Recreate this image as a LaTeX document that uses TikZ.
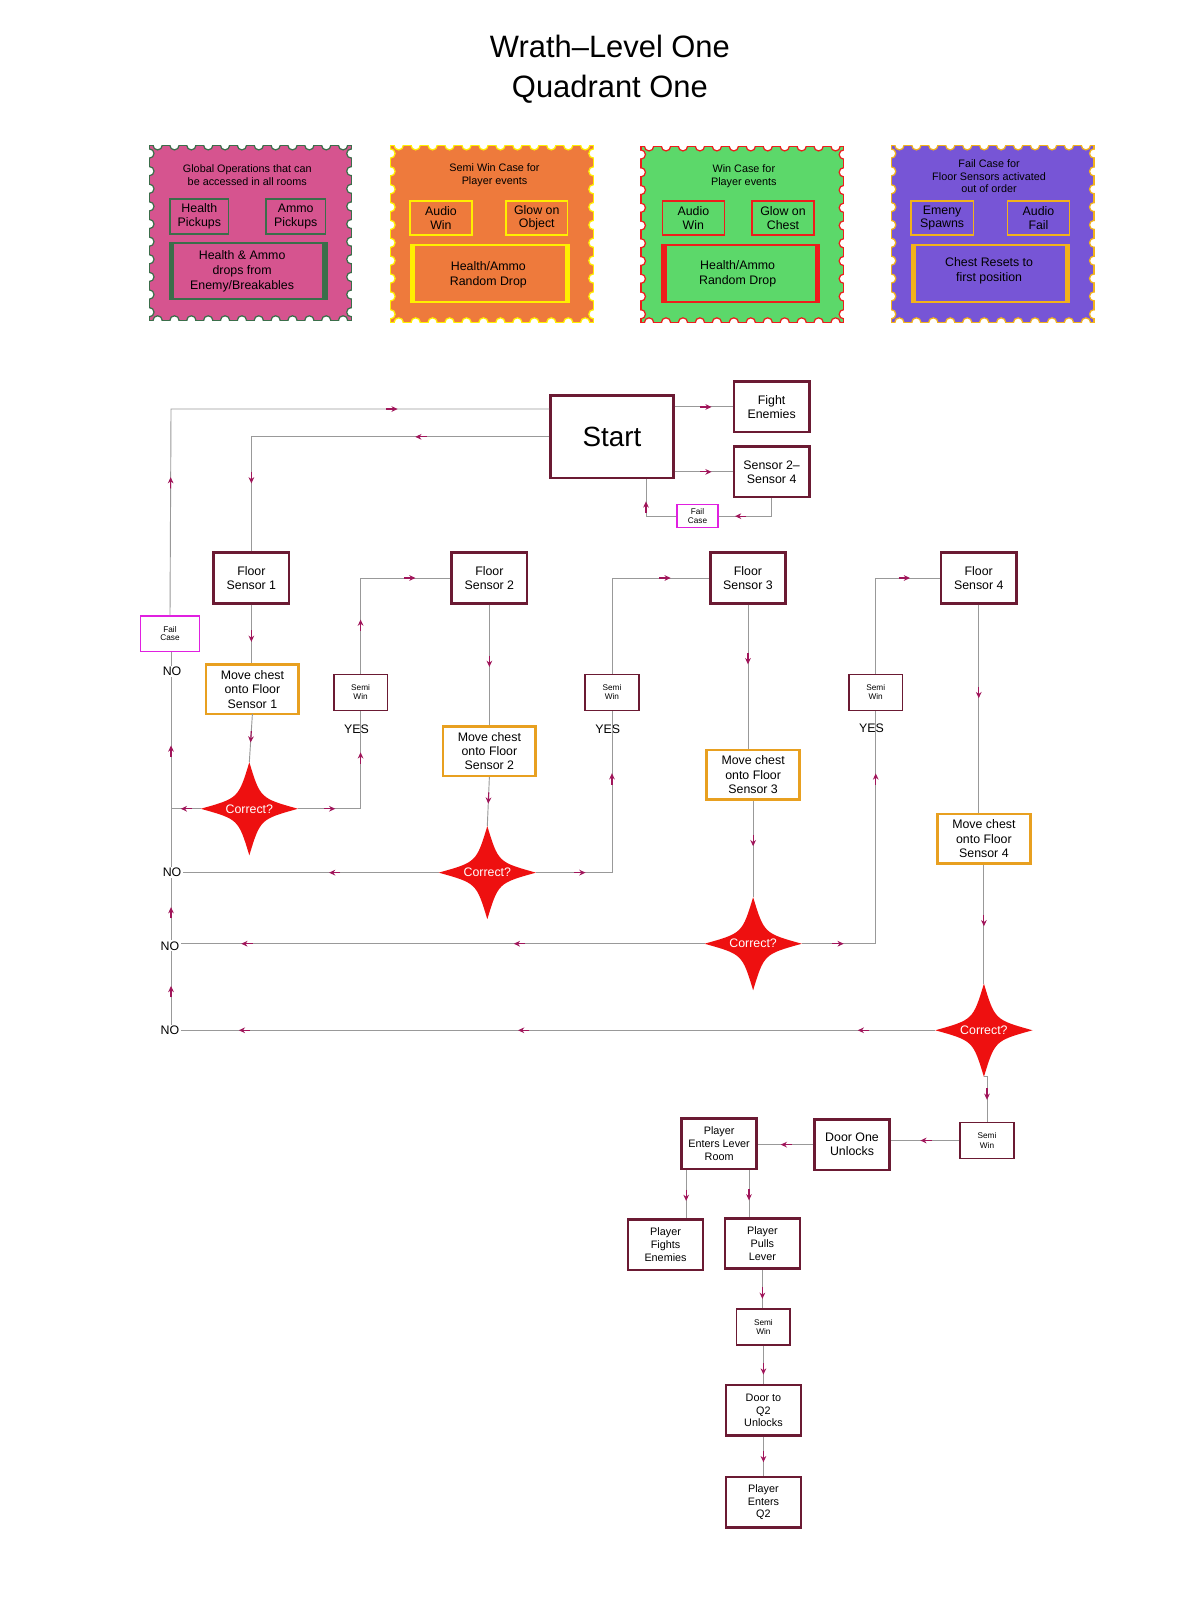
\documentclass[tikz,border=0pt]{standalone}
\usepackage{fontspec}
\setmainfont{Liberation Sans}
\usetikzlibrary{shapes.geometric,decorations.markings,calc,arrows.meta}
\definecolor{boxc}{HTML}{6B1A33}
\definecolor{arc}{HTML}{A0155A}
\definecolor{ob}{HTML}{E8A020}
\definecolor{mg}{HTML}{E020E0}
\definecolor{pinkf}{HTML}{D6548F}
\definecolor{greenb}{HTML}{3B6E4A}
\definecolor{orangef}{HTML}{EE7A3C}
\definecolor{yellowb}{HTML}{FFEF00}
\definecolor{greenf}{HTML}{5CD86A}
\definecolor{redb}{HTML}{EE1C1C}
\definecolor{purplef}{HTML}{7755D6}
\definecolor{goldb}{HTML}{F2B21B}
\definecolor{dred}{HTML}{EE1010}
\newcommand\mystamp[6]{%
  \fill[#5,draw=#6,line width=1.5] (#1,#2) rectangle (#3,#4);
  \foreach \k in {0,...,11}{\pgfmathsetmacro\xx{#1+8+\k*(#3-#1-16)/11}
    \filldraw[fill=white,draw=#6,line width=1.2] (\xx,#2) circle (4.5);
    \filldraw[fill=white,draw=#6,line width=1.2] (\xx,#4) circle (4.5);}
  \foreach \k in {0,...,9}{\pgfmathsetmacro\yy{#2+8+\k*(#4-#2-16)/9}
    \filldraw[fill=white,draw=#6,line width=1.2] (#1,\yy) circle (4.5);
    \filldraw[fill=white,draw=#6,line width=1.2] (#3,\yy) circle (4.5);}
  \fill[white] (#1-7,#2-7) rectangle (#3+7,#2-0.6);
  \fill[white] (#1-7,#4+0.6) rectangle (#3+7,#4+7);
  \fill[white] (#1-7,#2-7) rectangle (#1-0.6,#4+7);
  \fill[white] (#3+0.6,#2-7) rectangle (#3+7,#4+7);
}
\newcommand\bigin[5]{%
  \draw[#5,line width=2] (#1,#2) rectangle (#3,#4);
  \draw[#5,line width=5] (#1+1.5,#2) -- (#1+1.5,#4) (#3-1.5,#2) -- (#3-1.5,#4);
}
\tikzset{
  box/.style={draw=boxc,line width=2.5pt,fill=white,align=center,minimum width=73,minimum height=49,inner sep=1,font=\fontsize{12}{13.5}\selectfont},
  sbox/.style={draw=boxc,line width=1.5pt,fill=white,align=center,minimum width=52,minimum height=35,inner sep=1,font=\fontsize{8}{9}\selectfont},
  mbox/.style={draw=ob,line width=2.5pt,fill=white,align=center,minimum width=90,minimum height=48,inner sep=1,font=\fontsize{12}{14}\selectfont},
  failc/.style={draw=mg,line width=1.2pt,fill=white,align=center,inner sep=1,font=\fontsize{8}{8.5}\selectfont},
  stin/.style={draw=#1,line width=1.5,align=center,inner sep=0,font=\fontsize{12}{13}\selectfont},
  sttxt/.style={align=center,font=\fontsize{10.5}{12.5}\selectfont},
  bigtxt/.style={align=center,font=\fontsize{12}{14.5}\selectfont},
  lbl/.style={fill=white,inner sep=1,font=\fontsize{12}{13}\selectfont},
  dia/.style={diamond,minimum width=94,minimum height=90,inner sep=0,text=white,font=\fontsize{12}{13}\selectfont},
  ln/.style={draw=black!40,line width=0.9},
  ar/.style={postaction={decorate,decoration={markings,mark=at position #1 with {\draw[arc,line width=1.1,-{Stealth[length=6,width=5.5]}] (-9,0)--(2,0);}}}}
}
\newcommand\concave[1]{%
  \fill[dred] (#1.north) .. controls ($(#1.center)!0.45!(#1.north east)$) .. (#1.east)
    .. controls ($(#1.center)!0.45!(#1.south east)$) .. (#1.south)
    .. controls ($(#1.center)!0.45!(#1.south west)$) .. (#1.west)
    .. controls ($(#1.center)!0.45!(#1.north west)$) .. (#1.north) -- cycle;}
\begin{document}
\begin{tikzpicture}[x=1pt,y=-1pt]
\useasboundingbox (0,0) rectangle (1165,1553);
\fill[white] (0,0) rectangle (1165,1553);
\node[align=center,font=\fontsize{30}{39}\selectfont] (title) at (592,67) {Wrath--Level One\\Quadrant One};
% stamps
\mystamp{145}{141}{341}{311}{pinkf}{greenb}
\node[sttxt] (t1) at (240,170) {Global Operations that can\\be accessed in all rooms};
\node[stin=greenb,minimum width=57,minimum height=34] (s1a) at (193.5,210) {Health\\Pickups};
\node[stin=greenb,minimum width=58,minimum height=34] (s1b) at (287,210) {Ammo\\Pickups};
\bigin{165}{236}{317}{290}{greenb}
\node[bigtxt] (s1c) at (235,263) {Health \& Ammo\\drops from\\Enemy/Breakables};
\mystamp{379}{141}{576}{313}{orangef}{yellowb}
\node[sttxt] (t2) at (480,170) {Semi Win Case for\\Player events};
\node[stin=yellowb,minimum width=60,minimum height=33] (s2a) at (428,211.5) {Audio\\Win};
\node[stin=yellowb,minimum width=60,minimum height=33] (s2b) at (521,211.5) {Glow on\\Object};
\bigin{399}{238}{552}{293}{yellowb}
\node[bigtxt] (s2c) at (474,267) {Health/Ammo\\Random Drop};
\mystamp{622}{142}{819}{313}{greenf}{redb}
\node[sttxt] (t3) at (722,171) {Win Case for\\Player events};
\node[stin=redb,minimum width=60,minimum height=33] (s3a) at (673,211.5) {Audio\\Win};
\node[stin=redb,minimum width=60,minimum height=33] (s3b) at (760,211.5) {Glow on\\Chest};
\bigin{643}{238}{795}{293}{redb}
\node[bigtxt] (s3c) at (716,266) {Health/Ammo\\Random Drop};
\mystamp{865}{141}{1062}{313}{purplef}{goldb}
\node[sttxt] (t4) at (960,171) {Fail Case for\\Floor Sensors activated\\out of order};
\node[stin=goldb,minimum width=61,minimum height=33] (s4a) at (914.5,211.5) {Emeny\\Spawns};
\node[stin=goldb,minimum width=60,minimum height=33] (s4b) at (1008,211.5) {Audio\\Fail};
\bigin{885}{238}{1038}{293}{goldb}
\node[bigtxt] (s4c) at (960,263) {Chest Resets to\\first position};
% nodes
\node[box,minimum width=119,minimum height=80,font=\fontsize{27}{30}\selectfont] (start) at (594,424) {Start};
\node[box] (fe) at (749,395) {Fight\\Enemies};
\node[box] (ss) at (749,458) {Sensor 2--\\Sensor 4};
\node[failc,minimum width=40,minimum height=22] (fc) at (677,501) {Fail\\Case};
\node[failc,minimum width=57,minimum height=34] (fl) at (165,615) {Fail\\Case};
\node[box] (fs1) at (244,561) {Floor\\Sensor 1};
\node[box] (fs2) at (475,561) {Floor\\Sensor 2};
\node[box] (fs3) at (726,561) {Floor\\Sensor 3};
\node[box] (fs4) at (950,561) {Floor\\Sensor 4};
\node[mbox] (m1) at (245,669) {Move chest\\onto Floor\\Sensor 1};
\node[mbox] (m2) at (475,729) {Move chest\\onto Floor\\Sensor 2};
\node[mbox] (m3) at (731,752) {Move chest\\onto Floor\\Sensor 3};
\node[mbox] (m4) at (955,814) {Move chest\\onto Floor\\Sensor 4};
\node[sbox] (sw1) at (350,672) {Semi\\Win};
\node[sbox] (sw2) at (594,672) {Semi\\Win};
\node[sbox] (sw3) at (850,672) {Semi\\Win};
\node[lbl] (y1) at (346,708) {YES};
\node[lbl] (y2) at (590,708) {YES};
\node[lbl] (y3) at (846,707) {YES};
\node[dia] (c1) at (242,785) {}; \concave{c1}
\node[dia] (c2) at (473,847) {}; \concave{c2}
\node[dia] (c3) at (731,916) {}; \concave{c3}
\node[dia] (c4) at (955,1000) {}; \concave{c4}
\node[text=white,font=\fontsize{12}{13}\selectfont] at (c1) {Correct?};
\node[text=white,font=\fontsize{12}{13}\selectfont] at (c2) {Correct?};
\node[text=white,font=\fontsize{12}{13}\selectfont] at (c3) {Correct?};
\node[text=white,font=\fontsize{12}{13}\selectfont] at (c4) {Correct?};
\node[sbox] (sw4) at (958,1107) {Semi\\Win};
\node[box] (d1) at (827,1111) {Door One\\Unlocks};
\node[box,font=\fontsize{10.5}{12.5}\selectfont] (lr) at (698,1110) {Player\\Enters Lever\\Room};
\node[box,font=\fontsize{10.5}{12.5}\selectfont] (pf) at (646,1208) {Player\\Fights\\Enemies};
\node[box,font=\fontsize{10.5}{12.5}\selectfont] (pl) at (740,1207) {Player\\Pulls\\Lever};
\node[sbox] (sw5) at (741,1288) {Semi\\Win};
\node[box,font=\fontsize{10.5}{12.5}\selectfont] (dq) at (741,1369) {Door to\\Q2\\Unlocks};
\node[box,font=\fontsize{10.5}{12.5}\selectfont] (eq) at (741,1458) {Player\\Enters\\Q2};
% connectors
\coordinate (tl) at (166,397);
\coordinate (tl2) at (244,424);
\coordinate (fcb) at (627,501);
\begin{scope}[on background layer/.style={}]
\end{scope}
\draw[ln,ar=0.233,ar=0.737] (fl.north) -- (tl) -- (tl -| start.west);
\draw[ln,ar=0.32,ar=0.83] (start.west) -- (tl2) -- (fs1.north);
\draw[ln,ar=0.6] (start.east |- fe.west) -- (fe.west);
\draw[ln,ar=0.6] (start.east |- ss.west) -- (ss.west);
\draw[ln,ar=0.74] (ss.south) -- (ss.south |- fc.east) -- (fc.east);
\draw[ln,ar=0.64] (fc.west) -- (fcb) -- (fcb |- start.south);
\draw[ln,ar=0.6] (fs1.south) -- (fs1.south |- m1.north);
\draw[ln,ar=0.55] (m1.south |- c1.north) ++(0,-47) -- (c1.north);
\draw[ln,ar=0.22,ar=0.73] (c1.east) -- (c1.east -| sw1.south) -- (sw1.south);
\draw[ln,ar=0.28,ar=0.8] (sw1.north) -- (sw1.north |- fs2.west) -- (fs2.west);
\draw[ln,ar=0.5] (fs2.south) -- (m2.north);
\draw[ln,ar=0.5] (m2.south) -- (c2.north);
\node[lbl] (n1) at (167,652) {NO};
\node[lbl] (n2) at (167,847) {NO};
\node[lbl] (n3) at (165,918) {NO};
\node[lbl] (n4) at (165,1000) {NO};
\draw[ln,ar=0.42] (c2.west) -- (n2.east);
\draw[ln,ar=0.2,ar=0.73] (c2.east) -- (c2.east -| sw2.south) -- (sw2.south);
\draw[ln,ar=0.79] (sw2.north) -- (sw2.north |- fs3.west) -- (fs3.west);
\draw[ln,ar=0.4] (fs3.south) -- (fs3.south |- m3.north);
\draw[ln,ar=0.45] (m3.south) -- (c3.north);
\draw[ln,ar=0.36,ar=0.88] (c3.west) -- (c3.west -| n3.east);
\draw[ln,ar=0.13,ar=0.79] (c3.east) -- (c3.east -| sw3.south) -- (sw3.south);
\draw[ln,ar=0.8] (sw3.north) -- (sw3.north |- fs4.west) -- (fs4.west);
\draw[ln,ar=0.44] (fs4.south) -- (fs4.south |- m4.north);
\draw[ln,ar=0.5] (m4.south) -- (c4.north);
\draw[ln,ar=0.1,ar=0.55,ar=0.92] (c4.west) -- (c4.west -| n4.east);
\draw[ln,ar=0.5] (c4.south) -- (c4.south -| sw4.north) -- (sw4.north);
\draw[ln,ar=0.54] (sw4.west) -- (sw4.west -| d1.east);
\draw[ln,ar=0.55] (d1.west) -- (d1.west -| lr.east);
\draw[ln,ar=0.6] (lr.south -| 666,0) -- (pf.north -| 666,0);
\draw[ln,ar=0.6] (lr.south -| 727,0) -- (pl.north -| 727,0);
\draw[ln,ar=0.7] (pl.south) -- (pl.south |- sw5.north);
\draw[ln,ar=0.7] (sw5.south) -- (dq.north);
\draw[ln,ar=0.6] (dq.south) -- (eq.north);
\draw[ln,ar=0.5] (n4.north -| 166,0) -- (n3.south -| 166,0);
\draw[ln,ar=0.5] (n3.north -| 166,0) -- (n2.south -| 166,0);
\draw[ln,ar=0.63] (n2.north -| 166,0) -- (n1.south -| 166,0);
\draw[ln] (n1.north -| 166,0) -- (fl.south -| 166,0);
\draw[ln,ar=0.6] (c1.west) -- (c1.west -| 166,0);
\end{tikzpicture}
\end{document}
